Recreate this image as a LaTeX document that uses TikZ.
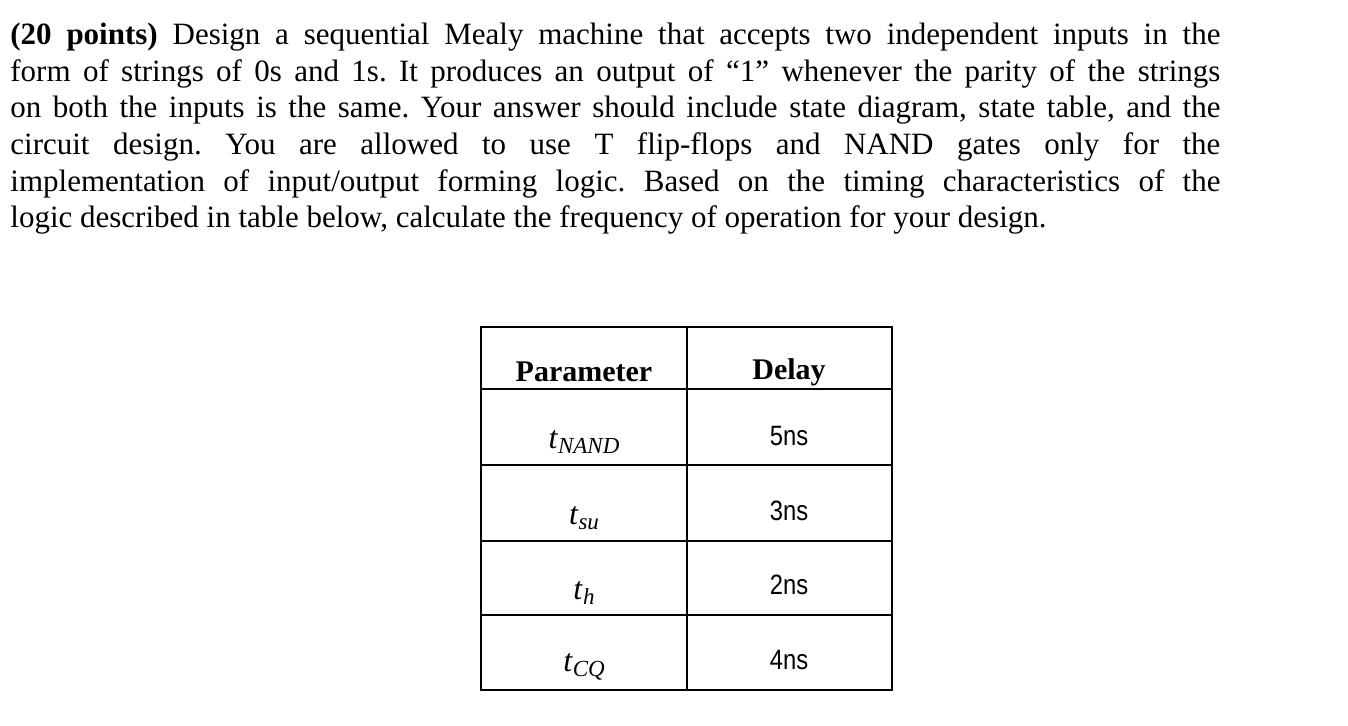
\documentclass[tikz,border=0pt]{standalone}
\usepackage{fontspec}
\setmainfont{Liberation Serif}
\newfontfamily\valfont[FakeStretch=0.85]{Liberation Sans}
\newcommand{\tsub}[1]{\textit{t}\raisebox{-0.35ex}{\fontsize{11.5}{12}\selectfont\textit{#1}}}
\begin{document}
\begin{tikzpicture}[x=0.5pt,y=-0.5pt,
  line/.style={anchor=base west,inner sep=0,font=\frenchspacing\fontsize{15.5}{18}\selectfont},
  cell/.style={inner sep=0,font=\fontsize{15}{18}\selectfont},
  par/.style={inner sep=0,font=\fontsize{16}{18}\selectfont},
  val/.style={inner sep=0,font=\valfont\fontsize{14}{16}\selectfont},
  grid/.style={line width=1pt}]
\useasboundingbox (0,0) rectangle (1348,726);
\node[line] (l1) at (10,45) {\makebox[605pt][s]{\textbf{(20 points)} Design a sequential Mealy machine that accepts two independent inputs in the}};
\node[line] (l2) at (10,82) {\makebox[605pt][s]{form of strings of 0s and 1s. It produces an output of “1” whenever the parity of the strings}};
\node[line] (l3) at (10,118) {\makebox[605pt][s]{on both the inputs is the same. Your answer should include state diagram, state table, and the}};
\node[line] (l4) at (10,155) {\makebox[605pt][s]{circuit design. You are allowed to use T flip-flops and NAND gates only for the}};
\node[line] (l5) at (10,192) {\makebox[605pt][s]{implementation of input/output forming logic. Based on the timing characteristics of the}};
\node[line] (l6) at (10,228) {logic described in table below, calculate the frequency of operation for your design.};
\draw[grid] (481,327) rectangle (892,690);
\draw[grid] (687,327) -- (687,690);
\foreach \y in {389,465,541,615} \draw[grid] (481,\y) -- (892,\y);
\node[cell] (h1) at (584,372) {\textbf{Parameter}};
\node[cell] (h2) at (789,372) {\textbf{Delay}};
\node[par] (p1) at (584,442) {\tsub{NAND}};
\node[par] (p2) at (584,518) {\tsub{su}};
\node[par] (p3) at (584,593) {\tsub{h}};
\node[par] (p4) at (584,667) {\tsub{CQ}};
\node[val] (v1) at (789,436) {5ns};
\node[val] (v2) at (789,511) {3ns};
\node[val] (v3) at (789,585) {2ns};
\node[val] (v4) at (789,660) {4ns};
\end{tikzpicture}
\end{document}
